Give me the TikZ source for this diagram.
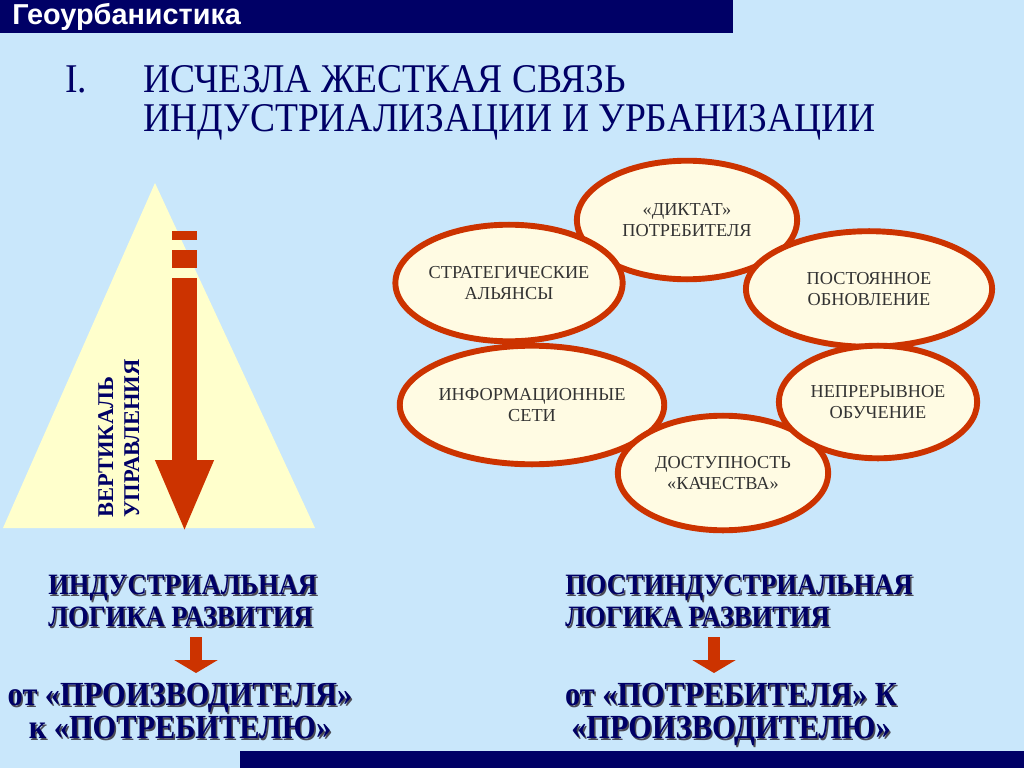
\documentclass[tikz,border=0pt]{standalone}
\usepackage{fontspec}
\setmainfont{Liberation Serif}
\newfontfamily\headfont{Liberation Sans}
\newfontfamily\titlefont[FakeStretch=0.92]{Liberation Serif}
\newfontfamily\logicfont[FakeStretch=0.9]{Liberation Serif}
\usepackage{tikz}
\usetikzlibrary{calc}
\usetikzlibrary{arrows.meta}
\usetikzlibrary{shapes.geometric}
\definecolor{skyback}{HTML}{C9E7FB}
\definecolor{navy}{HTML}{000066}
\definecolor{brick}{HTML}{CC3300}
\definecolor{cream}{HTML}{FFFBE3}
\definecolor{pale}{HTML}{FFFFCC}
\definecolor{ink}{HTML}{333333}
\definecolor{shade}{HTML}{4A4A55}
\tikzset{oval/.style={ellipse, draw=brick, line width=4.2pt, fill=cream, inner sep=0pt,
  text=ink, align=center, font=\fontsize{13}{15}\selectfont}}
\tikzset{logic/.style={inner sep=0pt, font=\logicfont\bfseries\fontsize{21}{22.7}\selectfont}}
\tikzset{prodtext/.style={inner sep=0pt, font=\logicfont\bfseries\fontsize{24}{23.4}\selectfont}}
\tikzset{titletext/.style={anchor=base west, inner sep=0pt, text=navy, font=\titlefont\fontsize{29}{30}\selectfont}}
\tikzset{smallarrow/.style={brick, line width=9.2pt, -{Triangle[width=30.5pt,length=9.2pt]}}}

\begin{document}
\begin{tikzpicture} [x=0.025cm, y=-0.025cm]
\fill[skyback] (0,0) rectangle (1024,768);
\useasboundingbox (0,0) rectangle (1024,768);
\fill[navy] (0,0) rectangle (733,33);
\fill[navy] (240,751) rectangle (1024,768);
\node[anchor=west, inner sep=0pt, text=white, font=\headfont\bfseries\fontsize{20.5}{22}\selectfont] (head) at (12,17) {Геоурбанистика};
\node[titletext] (roman) at (65,93) {I.};
\node[titletext] (title1) at (143,93) {ИСЧЕЗЛА ЖЕСТКАЯ СВЯЗЬ};
\node[titletext] (title2) at (143,132) {ИНДУСТРИАЛИЗАЦИИ И УРБАНИЗАЦИИ};
% pyramid and arrow
\fill[pale] (155,183) -- (315,528) -- (3,528) -- cycle;
\fill[brick] (172,231) rectangle (197,240);
\fill[brick] (172,250) rectangle (197,268);
\draw[brick, line width=17.7pt, -{Triangle[width=37.6pt,length=51.8pt]}] (184.5,278) -- (184.5,533);
\node[rotate=90, anchor=north west, align=left, inner sep=0pt, text=navy,
  font=\bfseries\fontsize{16}{18.4}\selectfont] (vert) at (98,518) {ВЕРТИКАЛЬ\\УПРАВЛЕНИЯ};
% ovals
\foreach \n/\p/\w/\h/\t in {dik/{687,220}/221/119/{«ДИКТАТ»\\ПОТРЕБИТЕЛЯ},
  post/{869,289}/247/116/{ПОСТОЯННОЕ\\ОБНОВЛЕНИЕ},
  strat/{509,283}/216/117/{СТРАТЕГИЧЕСКИЕ\\АЛЬЯНСЫ},
  info/{532,405}/262/119/{ИНФОРМАЦИОННЫЕ\\СЕТИ},
  dost/{723,473}/211/115/{ДОСТУПНОСТЬ\\«КАЧЕСТВА»},
  nepr/{878,402}/199/113/{НЕПРЕРЫВНОЕ\\ОБУЧЕНИЕ}} {
 \node[oval, minimum width=\w*0.7087pt, minimum height=\h*0.7087pt] (\n) at (\p) {\t};
}
% two logics
\foreach \c/\d in {shade/1.5, navy/0} {
 \node[logic, text=\c, anchor=north west, align=left] (ind) at (48+\d,575+\d) {ИНДУСТРИАЛЬНАЯ\\ЛОГИКА РАЗВИТИЯ};
 \node[logic, text=\c, anchor=north west, align=left] (postind) at (565+\d,575+\d) {ПОСТИНДУСТРИАЛЬНАЯ\\ЛОГИКА РАЗВИТИЯ};
 \node[prodtext, text=\c, anchor=north, align=center] (fromprod) at (180+\d,683+\d) {от «ПРОИЗВОДИТЕЛЯ»\\к «ПОТРЕБИТЕЛЮ»};
 \node[prodtext, text=\c, anchor=north, align=center] (fromcons) at (731+\d,683+\d) {от «ПОТРЕБИТЕЛЯ» К\\«ПРОИЗВОДИТЕЛЮ»};
}
\coordinate (arrL) at (196,0);
\coordinate (arrR) at (714,0);
\draw[smallarrow] ($(ind.south -| arrL)+(0,10)$) -- ($(fromprod.north -| arrL)+(0,-10)$);
\draw[smallarrow] ($(postind.south -| arrR)+(0,10)$) -- ($(fromcons.north -| arrR)+(0,-10)$);
\end{tikzpicture}
\end{document}
